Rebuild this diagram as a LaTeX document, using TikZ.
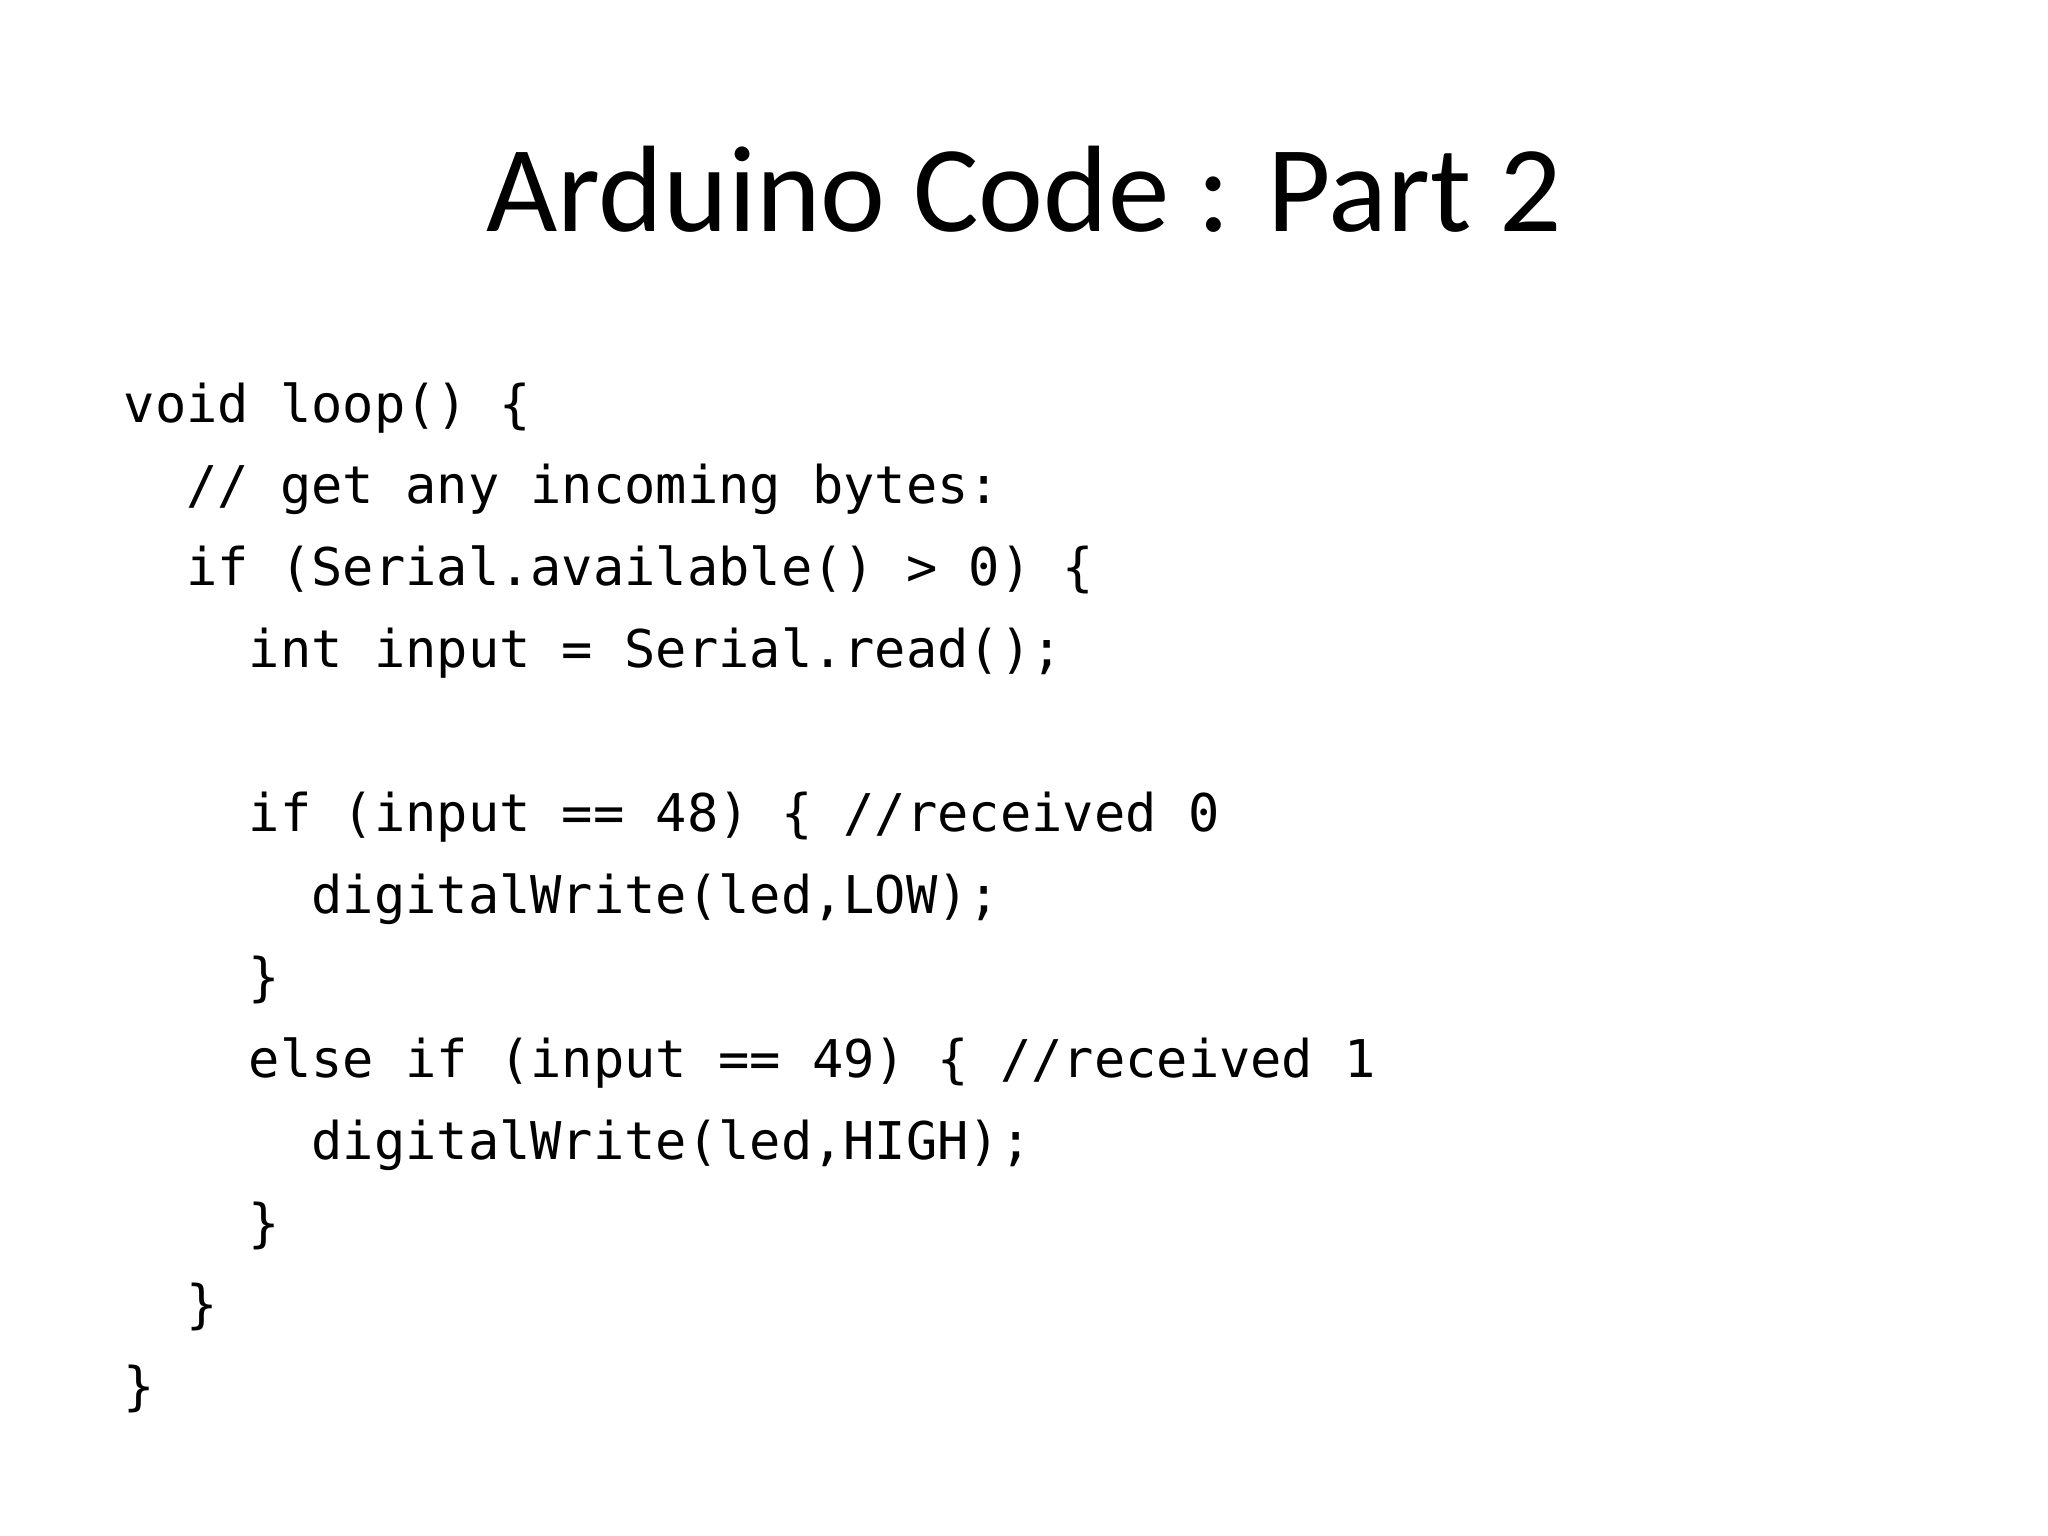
\documentclass[tikz,border=0pt]{standalone}
\usepackage{fontspec}
\setmainfont{Carlito}
\newfontfamily\codefont{DejaVu Sans Mono}
\begin{document}
\begin{tikzpicture}[x=1pt,y=-1pt,
  titletext/.style={anchor=base,inner sep=0pt,font=\fontsize{123}{140}\selectfont},
  code/.style={anchor=base west,inner sep=0pt,font=\codefont\fontsize{52}{60}\selectfont}]
\useasboundingbox[fill=white] (0,0) rectangle (2048,1536);
\def\cw{31.3}
\def\lh{81.9}
\def\ox{123.5}
\node[titletext] (title) at (1024,231) {Arduino Code : Part 2};
\node[code] (l1)  at (\ox+0*\cw,422+0*\lh)  {void loop() \{};
\node[code] (l2)  at (\ox+2*\cw,422+1*\lh)  {// get any incoming bytes:};
\node[code] (l3)  at (\ox+2*\cw,422+2*\lh)  {if (Serial.available() > 0) \{};
\node[code] (l4)  at (\ox+4*\cw,422+3*\lh)  {int input = Serial.read();};
\node[code] (l6)  at (\ox+4*\cw,422+5*\lh)  {if (input == 48) \{ //received 0};
\node[code] (l7)  at (\ox+6*\cw,422+6*\lh)  {digitalWrite(led,LOW);};
\node[code] (l8)  at (\ox+4*\cw,422+7*\lh)  {\}};
\node[code] (l9)  at (\ox+4*\cw,422+8*\lh)  {else if (input == 49) \{ //received 1};
\node[code] (l10) at (\ox+6*\cw,422+9*\lh)  {digitalWrite(led,HIGH);};
\node[code] (l11) at (\ox+4*\cw,422+10*\lh) {\}};
\node[code] (l12) at (\ox+2*\cw,422+11*\lh) {\}};
\node[code] (l13) at (\ox+0*\cw,422+12*\lh) {\}};
\end{tikzpicture}
\end{document}
